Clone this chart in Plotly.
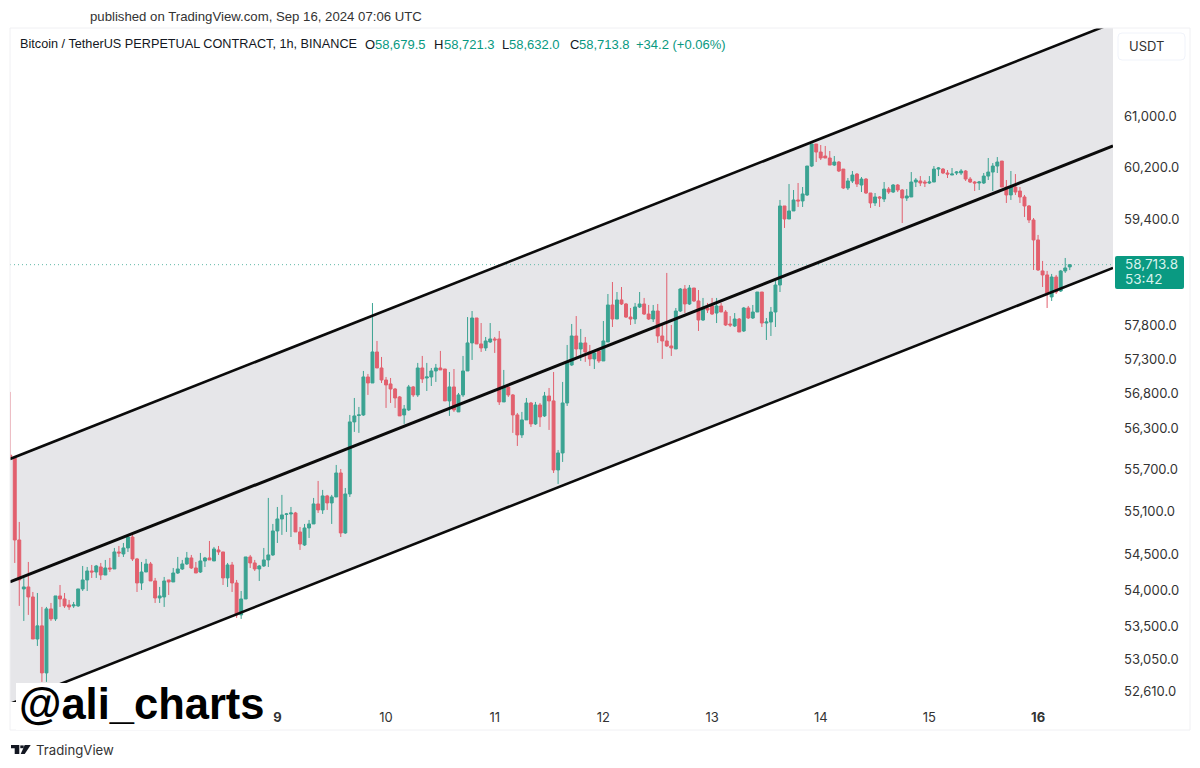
import pandas as pd
import plotly.graph_objects as go

# Hourly candles, first one is Sep 6 13:00
opens = [
    55910, 55870, 54704, 54020, 54048, 53909, 53330, 53510, 52867, 53744,
    53606, 53923, 53881, 53799, 53785, 53785, 54020, 54145, 54270, 54256,
    54326, 54214, 54312, 54298, 54536, 54508, 54592, 54746, 54438, 54103,
    54256, 54368, 54131, 53895, 53909, 54145, 54117, 54242, 54298, 54368,
    54452, 54312, 54256, 54410, 54452, 54410, 54564, 54536, 54173, 54354,
    54103, 53661, 53881, 54466, 54382, 54298, 54340, 54424, 54494, 54831,
    55000, 55065, 55071, 55085, 54817, 54634, 54873, 54930, 55213, 55128,
    55327, 55227, 55312, 55654, 54803, 55355, 56389, 56483, 56490, 57044,
    56956, 57412, 57176, 57000, 56942, 56868, 56752, 56490, 56563, 56898,
    56781, 57176, 57029, 57044, 57132, 57176, 57161, 56694, 56898, 56534,
    56781, 57132, 57545, 57915, 57530, 57471, 57559, 57604, 57604, 56679,
    56898, 56781, 56490, 56201, 56418, 56664, 56360, 56635, 56476, 56766,
    56694, 55697, 55941, 56664, 57220, 57648, 57456, 57545, 57412, 57309,
    57427, 57279, 57559, 58109, 57900, 58184, 58124, 57929, 57900, 58079,
    58124, 57974, 57900, 58019, 57648, 57574, 57500, 57456, 58019, 58348,
    58124, 58363, 58169, 57885, 58064, 58094, 57989, 58094, 58004, 57826,
    57796, 57900, 57722, 58064, 57915, 58004, 58303, 57840, 57855, 58004,
    58408, 59606, 59407, 59530, 59698, 59683, 59775, 60221, 60563, 60438,
    60376, 60345, 60236, 60283, 60174, 59882, 59990, 60097, 59928, 60020,
    59805, 59652, 59744, 59713, 59866, 59820, 59928, 59851, 59728, 59744,
    59974, 59990, 59974, 59959, 59974, 60174, 60174, 60113, 60082, 60113,
    60113, 60144, 60020, 59974, 59959, 59959, 60066, 60128, 60221, 60298,
    59897, 59775, 59897, 59836, 59744, 59606, 59392, 59088, 58619, 58559,
    58229, 58528, 58318, 58619, 58679.5,
]
highs = [
    56825, 55870, 54958, 54187, 54396, 53978, 53964, 53771, 53771, 53826,
    53923, 54075, 53964, 53868, 53840, 54020, 54340, 54326, 54354, 54354,
    54382, 54424, 54452, 54592, 54620, 54662, 54774, 54774, 54452, 54396,
    54438, 54396, 54173, 54048, 54187, 54145, 54312, 54466, 54424, 54536,
    54494, 54396, 54522, 54466, 54690, 54606, 54620, 54536, 54382, 54396,
    54145, 53992, 54466, 54494, 54424, 54354, 54592, 55298, 54930, 55170,
    55341, 55085, 55170, 55100, 54887, 54930, 54986, 55298, 55540, 55412,
    55341, 55341, 55769, 55711, 55440, 56490, 56737, 56606, 57132, 57088,
    58138, 57574, 57338, 57044, 57029, 56883, 56766, 56635, 56927, 56912,
    57250, 57353, 57250, 57176, 57235, 57427, 57161, 57117, 57161, 56810,
    57353, 57929, 58019, 57915, 57840, 57633, 57840, 57633, 57722, 57147,
    56898, 56795, 56519, 56534, 56737, 56679, 56679, 56664, 56825, 56883,
    57117, 55984, 56971, 57515, 57826, 57944, 57752, 57633, 57515, 57441,
    57471, 57870, 58273, 58453, 58303, 58378, 58139, 58064, 58139, 58303,
    58214, 58109, 58109, 58124, 57811, 58589, 57811, 58064, 58363, 58408,
    58408, 58363, 58333, 58214, 58139, 58214, 58214, 58139, 58034, 57944,
    57989, 57915, 58079, 58094, 58109, 58303, 58303, 57915, 58079, 58468,
    59698, 59606, 59943, 59851, 59959, 59897, 60221, 60563, 60563, 60547,
    60532, 60454, 60376, 60298, 60174, 60036, 60144, 60113, 60051, 60036,
    59805, 59805, 59759, 59974, 59897, 59943, 59943, 59866, 59866, 60128,
    60036, 60066, 60005, 60066, 60221, 60205, 60190, 60159, 60190, 60144,
    60174, 60159, 60051, 59990, 59990, 60113, 60345, 60267, 60360, 60298,
    60005, 60144, 60097, 59897, 59775, 59621, 59422, 59164, 58770, 58619,
    58574, 58559, 58634, 58815, 58721.3,
]
lows = [
    55855, 54382, 53785, 53578, 53661, 53330, 53235, 52745, 52745, 53578,
    53578, 53771, 53757, 53730, 53757, 53771, 53992, 53992, 54173, 54173,
    54145, 54214, 54256, 54298, 54466, 54466, 54536, 54410, 53978, 54006,
    54256, 54131, 53826, 53826, 53771, 53937, 54117, 54228, 54284, 54354,
    54298, 54242, 54242, 54326, 54424, 54410, 54494, 54075, 54048, 53978,
    53620, 53606, 53881, 54312, 54270, 54131, 54326, 54326, 54480, 54662,
    54775, 54817, 54746, 54817, 54564, 54620, 54732, 54930, 55085, 55071,
    55128, 54930, 55312, 54746, 54789, 55312, 56244, 56230, 56476, 56781,
    56956, 57176, 56956, 56592, 56664, 56592, 56476, 56360, 56548, 56752,
    56752, 56956, 56839, 56912, 56971, 57147, 56694, 56476, 56534, 56534,
    56752, 57132, 57294, 57530, 57412, 57427, 57545, 57397, 56635, 56679,
    56752, 56230, 56042, 56157, 56418, 56316, 56345, 56316, 56461, 56273,
    55654, 55497, 55812, 56621, 57206, 57323, 57279, 57265, 57206, 57161,
    57250, 57279, 57559, 57781, 57900, 58109, 57915, 57811, 57826, 58064,
    57960, 57885, 57855, 57545, 57309, 57486, 57353, 57456, 58004, 57989,
    58109, 58154, 57722, 57870, 57989, 57960, 57840, 58004, 57796, 57781,
    57781, 57707, 57707, 57900, 57900, 58004, 57781, 57589, 57648, 57781,
    58303, 59270, 59407, 59530, 59591, 59591, 59759, 60205, 60283, 60314,
    60345, 60236, 60221, 60128, 59866, 59851, 59959, 59897, 59820, 59790,
    59576, 59606, 59591, 59667, 59790, 59805, 59820, 59346, 59683, 59744,
    59897, 59912, 59897, 59943, 59974, 60066, 60097, 60036, 60082, 60082,
    60082, 59990, 59959, 59836, 59851, 59943, 60005, 59836, 60113, 59897,
    59652, 59698, 59775, 59652, 59438, 59346, 58634, 58619, 58378, 58064,
    58169, 58273, 58303, 58589, 58632.0,
]
closes = [
    55870, 54704, 54145, 54048, 53909, 53330, 53510, 52867, 53744, 53606,
    53923, 53881, 53785, 53771, 53799, 54020, 54145, 54270, 54256, 54340,
    54214, 54312, 54298, 54536, 54522, 54592, 54746, 54438, 54103, 54256,
    54368, 54131, 53895, 53923, 54131, 54117, 54242, 54298, 54368, 54452,
    54312, 54242, 54410, 54452, 54424, 54578, 54536, 54173, 54354, 54103,
    53661, 53881, 54466, 54382, 54298, 54340, 54424, 54494, 54831, 55000,
    55057, 55071, 55085, 54817, 54648, 54873, 54930, 55213, 55128, 55327,
    55227, 55312, 55654, 54803, 55355, 56389, 56476, 56490, 57044, 56956,
    57412, 57176, 57000, 56927, 56868, 56737, 56476, 56577, 56898, 56781,
    57176, 57015, 57044, 57132, 57176, 57147, 56694, 56898, 56563, 56781,
    57132, 57545, 57915, 57530, 57471, 57574, 57604, 57589, 56679, 56898,
    56781, 56490, 56201, 56418, 56664, 56360, 56635, 56461, 56766, 56694,
    55697, 55941, 56664, 57265, 57648, 57456, 57545, 57412, 57309, 57397,
    57279, 57574, 58109, 57900, 58184, 58124, 57929, 57900, 58079, 58124,
    57974, 57900, 58019, 57648, 57574, 57500, 57471, 58019, 58348, 58124,
    58363, 58169, 57885, 58064, 58034, 57974, 58094, 58004, 57811, 57811,
    57900, 57707, 58064, 57915, 58004, 58303, 57840, 57855, 58004, 58408,
    59606, 59407, 59530, 59698, 59683, 59790, 60221, 60563, 60438, 60345,
    60345, 60236, 60283, 60144, 59882, 59990, 60082, 59943, 60020, 59805,
    59652, 59744, 59728, 59866, 59820, 59928, 59851, 59728, 59759, 59974,
    60005, 59959, 59959, 59974, 60174, 60190, 60113, 60097, 60097, 60128,
    60144, 60020, 59974, 59959, 59974, 60066, 60128, 60221, 60283, 59897,
    59775, 59897, 59820, 59744, 59606, 59392, 59088, 58634, 58559, 58288,
    58528, 58303, 58619, 58664, 58713.8,
]
times = pd.date_range('2024-09-06 13:00', periods=len(closes), freq='h')

# Channel lines, prices at the left and right edge of the pane
x_range = ['2024-09-06 12:57', '2024-09-16 16:33']
channel_upper = [55855, 62475]
channel_middle = [54117, 60532]
channel_lower = [52448, 58665]
last_close = [58713.8, 58713.8]

price_ticks = [61000, 60200, 59400, 57800, 57300, 56800, 56300, 55700, 55100, 54500, 54000, 53500, 53050, 52610]
y_range = [4.71994, 4.79515]
day_ticks = ['2024-09-09', '2024-09-10', '2024-09-11', '2024-09-12', '2024-09-13', '2024-09-14', '2024-09-15', '2024-09-16']
day_labels = ['<b>9</b>', '10', '11', '12', '13', '14', '15', '<b>16</b>']

header_items = [
    (19, 'Bitcoin / TetherUS PERPETUAL CONTRACT, 1h, BINANCE', 12.7, '#131722'),
    (364, 'O', 13, '#131722'), (374, '58,679.5', 13, '#089981'),
    (433, 'H', 13, '#131722'), (443, '58,721.3', 13, '#089981'),
    (501, 'L', 13, '#131722'), (508, '58,632.0', 13, '#089981'),
    (569, 'C', 13, '#131722'), (578, '58,713.8', 13, '#089981'),
    (635, '+34.2 (+0.06%)', 13, '#089981'),
]

GREEN = '#3ba392'
RED = '#e2606e'
BAND = '#e6e6e9'
FONT = 'Liberation Sans'
AXIS_FONT = 'Inter'

# Pane sits at x 10..1113, y 28..702 in the 1200x768 page
L, R, T, B = 10, 1113, 28, 702


def px(x):
    return (x - L) / (R - L)


def py(y):
    return (B - y) / (B - T)


def poly(points):
    return 'M ' + ' L '.join(f'{px(x)},{py(y)}' for x, y in points) + ' Z'


def rounded(x0, y0, x1, y1, r):
    return (f'M {px(x0 + r)},{py(y0)} L {px(x1 - r)},{py(y0)} Q {px(x1)},{py(y0)} {px(x1)},{py(y0 + r)} '
            f'L {px(x1)},{py(y1 - r)} Q {px(x1)},{py(y1)} {px(x1 - r)},{py(y1)} '
            f'L {px(x0 + r)},{py(y1)} Q {px(x0)},{py(y1)} {px(x0)},{py(y1 - r)} '
            f'L {px(x0)},{py(y0 + r)} Q {px(x0)},{py(y0)} {px(x0 + r)},{py(y0)} Z')


def paper_shape(path, fill, line=None):
    return dict(type='path', xref='paper', yref='paper', path=path, fillcolor=fill,
                line=dict(color=line or fill, width=1 if line else 0), layer='above')


def label(x, y, text, size, color, font=FONT, anchor='left', yanchor='middle'):
    return dict(xref='paper', yref='paper', x=px(x), y=py(y), text=text, showarrow=False,
                xanchor=anchor, yanchor=yanchor, align='left', borderpad=0,
                font=dict(family=font, size=size, color=color))


fig = go.Figure()

# Band and dotted last price go on the lower y axis so the candles stay on top of the fill
fig.add_trace(go.Scatter(x=x_range, y=channel_lower, mode='lines', line=dict(width=0), yaxis='y', hoverinfo='skip'))
fig.add_trace(go.Scatter(x=x_range, y=channel_upper, mode='lines', line=dict(width=0), fill='tonexty',
                         fillcolor=BAND, yaxis='y', hoverinfo='skip'))
fig.add_trace(go.Scatter(x=x_range, y=last_close, mode='lines', line=dict(color='#5fb8a8', width=1, dash='1px,3px'),
                         yaxis='y', hoverinfo='skip'))

fig.add_trace(go.Candlestick(
    x=times, open=opens, high=highs, low=lows, close=closes, yaxis='y2', whiskerwidth=0,
    increasing=dict(line=dict(color=GREEN, width=1), fillcolor=GREEN),
    decreasing=dict(line=dict(color=RED, width=1), fillcolor=RED),
))

for values, width in [(channel_upper, 2.6), (channel_middle, 3), (channel_lower, 2.6)]:
    fig.add_trace(go.Scatter(x=x_range, y=values, mode='lines', line=dict(color='#0b0b0b', width=width),
                             yaxis='y2', hoverinfo='skip'))

shapes = [
    # outer frame
    paper_shape(poly([(L, T), (1190, T), (1190, 730), (L, 730)]), 'rgba(0,0,0,0)', '#f0f0f3'),
    # white patch behind the handle
    paper_shape(poly([(16, 683), (270, 683), (270, 730), (16, 730)]), '#ffffff'),
    # currency box and last price tag
    paper_shape(rounded(1118, 33, 1185, 60, 4), '#ffffff', '#f0f3fa'),
    paper_shape(rounded(1115, 256, 1184, 289, 2), '#0a9a82'),
    # TradingView logo
    paper_shape(poly([(11, 745), (19.3, 745), (19.3, 754), (14.7, 754), (14.7, 748.3), (11, 748.3)]), '#131722'),
    paper_shape(poly([(20.3, 745.4), (23.7, 745.4), (23.7, 748.2), (20.3, 748.2)]), '#131722'),
    paper_shape(poly([(24.7, 745), (30.7, 745), (24.7, 754), (20.7, 754)]), '#131722'),
]

annotations = [label(89, 16, 'published on TradingView.com, Sep 16, 2024 07:06 UTC', 13.2, '#333333')]
annotations += [label(x, 44, text, size, color) for x, text, size, color in header_items]
annotations += [
    label(1128, 46, 'USDT', 13, '#333333', AXIS_FONT),
    label(1124, 264, '58,713.8', 13.5, '#d8f2ec', AXIS_FONT),
    label(1124, 279, '53:42', 13.5, '#d8f2ec', AXIS_FONT),
    label(18, 704, '<b>@ali_charts</b>', 43.5, '#000000', 'Liberation Sans'),
    label(35, 750, 'TradingView', 13.2, '#333333', AXIS_FONT),
]

fig.update_layout(
    width=1200, height=768,
    margin=dict(l=L, r=1200 - R, t=T, b=768 - B, autoexpand=False),
    paper_bgcolor='white', plot_bgcolor='white',
    showlegend=False, boxgap=0.08,
    xaxis=dict(type='date', range=x_range, rangeslider=dict(visible=False), tickmode='array',
               tickvals=day_ticks, ticktext=day_labels, showgrid=False, zeroline=False, showline=False,
               ticks='', ticklabelstandoff=6, tickangle=0,
               tickfont=dict(family=AXIS_FONT, size=13, color='#333333')),
    yaxis=dict(type='log', range=y_range, side='right', tickmode='array', tickvals=price_ticks,
               ticktext=[f'{v:,.1f}' for v in price_ticks], showgrid=False, zeroline=False, showline=False,
               ticks='', ticklabelstandoff=10, tickfont=dict(family=AXIS_FONT, size=13, color='#333333')),
    yaxis2=dict(type='log', range=y_range, overlaying='y', side='right', visible=False),
    shapes=shapes,
    annotations=annotations,
)

# The page's default body margin would push the whole chart 8px down and right
fig.write_html('out.html', config={'displayModeBar': False}, post_script="document.body.style.margin = '0';")
